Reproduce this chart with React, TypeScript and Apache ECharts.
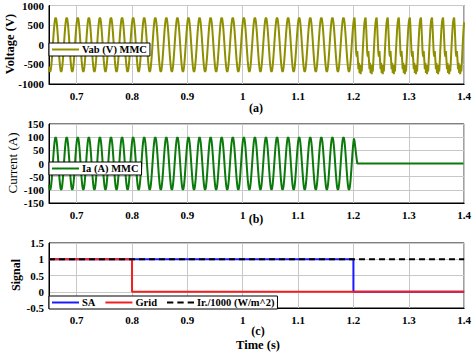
import React, { useEffect, useRef } from "react";
import * as echarts from "echarts";

// time axis (s)
const timeStart = 0.65;
const timeEnd = 1.4;
const sampleStep = 0.001;
const firstPeakTime = 0.662;
const faultTime = 1.202;
const xTickLabels = ["0.7", "0.8", "0.9", "1", "1.1", "1.2", "1.3", "1.4"];

// one 20 ms cycle of Vab (V), sampled every 1 ms, starting at a positive peak
const vabCycleBefore = [690, 656, 558, 406, 213, 0, -213, -406, -558, -656, -690, -656, -558, -406, -213, 0, 213, 406, 558, 656];
const vabCycleAfter = [690, 450, 120, -200, -300, -160, -380, -620, -460, -720, -560, -750, -520, -680, -420, -120, 150, 400, 570, 660];
// one 20 ms cycle of Ia (A), same sampling
const iaCycleBefore = [100, 95, 81, 59, 31, 0, -31, -59, -81, -95, -100, -95, -81, -59, -31, 0, 31, 59, 81, 95];
const iaTransition = [85, 68, 50, 32, 15, 0];
const iaAfter = 0;

// signals (breakpoints)
const saTimes = [0.65, 1.2, 1.2, 1.4];
const saValues = [1, 1, 0, 0];
const gridTimes = [0.65, 0.8, 0.8, 1.4];
const gridValues = [1, 1, 0, 0];
const irTimes = [0.65, 1.4];
const irValues = [1, 1];

const FONT = "'Liberation Serif', 'Times New Roman', serif";
const SOLID_ICON = "path://M0,0H30V2.2H0Z";
const DASH_ICON = "path://M0,0H7V2.2H0Z M11.5,0H18.5V2.2H11.5Z M23,0H30V2.2H23Z";

function buildWaves() {
  const n = Math.round((timeEnd - timeStart) / sampleStep);
  const peakIdx = Math.round((firstPeakTime - timeStart) / sampleStep);
  const faultIdx = Math.round((faultTime - timeStart) / sampleStep);
  const vab: number[][] = [];
  const ia: number[][] = [];
  for (let i = 0; i <= n; i++) {
    const t = +(timeStart + i * sampleStep).toFixed(3);
    const k = (((i - peakIdx) % 20) + 20) % 20;
    vab.push([t, i <= faultIdx ? vabCycleBefore[k] : vabCycleAfter[k]]);
    let c: number;
    if (i < faultIdx) c = iaCycleBefore[k];
    else if (i - faultIdx < iaTransition.length) c = iaTransition[i - faultIdx];
    else c = iaAfter;
    ia.push([t, c]);
  }
  return { vab, ia };
}

const zip = (a: number[], b: number[]) => a.map((x, i) => [x, b[i]]);

export default function App() {
  const ref = useRef<HTMLDivElement>(null);
  useEffect(() => {
    document.body.style.margin = "0";
    const chart = echarts.init(ref.current!, undefined, { renderer: "svg" });
    const { vab, ia } = buildWaves();
    const gridBase = { left: 49, width: 416, show: true, borderColor: "#000", borderWidth: 1 };
    const labelStyle = { fontFamily: FONT, fontWeight: "bold" as const, fontSize: 11, color: "#000" };
    const xAxis = (gi: number) => ({
      type: "value",
      gridIndex: gi,
      min: timeStart,
      max: timeEnd,
      splitNumber: 8,
      minInterval: 0.1,
      maxInterval: 0.1,
      axisLine: { show: true, onZero: false, lineStyle: { color: "#000", width: 1 } },
      axisTick: { show: false },
      splitLine: { show: true, lineStyle: { color: "#c8c8c8", width: 1 } },
      axisLabel: {
        ...labelStyle,
        margin: 6,
        showMinLabel: false,
        formatter: (v: number) => {
          const s = String(+v.toFixed(2));
          return xTickLabels.includes(s) ? s : "";
        },
      },
    });
    const yAxis = (gi: number, min: number, max: number, interval: number) => ({
      type: "value",
      gridIndex: gi,
      min,
      max,
      interval,
      axisLine: { show: true, onZero: false, lineStyle: { color: "#000", width: 1 } },
      axisTick: { show: false },
      splitLine: { show: true, lineStyle: { color: "#c8c8c8", width: 1 } },
      axisLabel: { ...labelStyle, margin: 5, formatter: (v: number) => String(+v.toFixed(2)) },
    });
    const legendBase = {
      left: 49,
      orient: "horizontal",
      backgroundColor: "#fff",
      borderColor: "#000",
      borderWidth: 1,
      borderRadius: 0,
      padding: [1, 3, 1, 3],
      itemWidth: 27,
      itemHeight: 9,
      itemGap: 10,
      textStyle: { fontFamily: FONT, fontWeight: "bold", fontSize: 10.5, color: "#000", padding: [0, 0, 0, -2] },
    };
    const txt = (text: string, x: number, y: number, size: number, bold = true, rot = 0) => ({
      type: "text",
      x,
      y,
      rotation: rot,
      style: {
        text,
        fill: "#000",
        font: `${bold ? "bold " : ""}${size}px ${FONT}`,
        align: "center",
        verticalAlign: "middle",
      },
    });
    chart.setOption({
      animation: false,
      grid: [
        { ...gridBase, top: 5, height: 79 },
        { ...gridBase, top: 124, height: 79 },
        { ...gridBase, top: 243, height: 65 },
      ],
      xAxis: [xAxis(0), xAxis(1), xAxis(2)],
      yAxis: [yAxis(0, -1000, 1000, 500), yAxis(1, -150, 150, 50), yAxis(2, -0.5, 1.5, 0.5)],
      legend: [
        { ...legendBase, top: 43, data: [{ name: "Vab (V) MMC", icon: SOLID_ICON }] },
        { ...legendBase, top: 162, data: [{ name: "Ia (A) MMC", icon: SOLID_ICON }] },
        {
          ...legendBase,
          top: 296,
          data: [
            { name: "SA", icon: SOLID_ICON },
            { name: "Grid", icon: SOLID_ICON },
            { name: "Ir./1000 (W/m^2)", icon: DASH_ICON },
          ],
        },
      ],
      series: [
        {
          name: "Vab (V) MMC", type: "line", xAxisIndex: 0, yAxisIndex: 0, data: vab,
          symbol: "none", showSymbol: false, lineStyle: { color: "#8f8f00", width: 2 }, itemStyle: { color: "#8f8f00" },
        },
        {
          name: "Ia (A) MMC", type: "line", xAxisIndex: 1, yAxisIndex: 1, data: ia,
          symbol: "none", showSymbol: false, lineStyle: { color: "#0b7a0b", width: 2 }, itemStyle: { color: "#0b7a0b" },
        },
        {
          name: "SA", type: "line", xAxisIndex: 2, yAxisIndex: 2, data: zip(saTimes, saValues),
          symbol: "none", showSymbol: false, lineStyle: { color: "#1a1aff", width: 2 }, itemStyle: { color: "#1a1aff" },
        },
        {
          name: "Grid", type: "line", xAxisIndex: 2, yAxisIndex: 2, data: zip(gridTimes, gridValues),
          symbol: "none", showSymbol: false, lineStyle: { color: "#f02020", width: 2 }, itemStyle: { color: "#f02020" },
        },
        {
          name: "Ir./1000 (W/m^2)", type: "line", xAxisIndex: 2, yAxisIndex: 2, data: zip(irTimes, irValues),
          symbol: "none", showSymbol: false, lineStyle: { color: "#000", width: 2, type: [6, 4] }, itemStyle: { color: "#000" },
        },
      ],
      graphic: [
        txt("Voltage (V)", 10, 44, 12.5, true, Math.PI / 2),
        txt("Current (A)", 12, 163, 13, false, Math.PI / 2),
        txt("Signal", 16, 275, 12, true, Math.PI / 2),
        txt("(a)", 256, 108, 12),
        txt("(b)", 256, 219, 12),
        txt("(c)", 258, 331, 12),
        txt("Time (s)", 258, 345, 12.5),
      ],
    });
    return () => chart.dispose();
  }, []);
  return <div ref={ref} style={{ width: 474, height: 352 }} />;
}
